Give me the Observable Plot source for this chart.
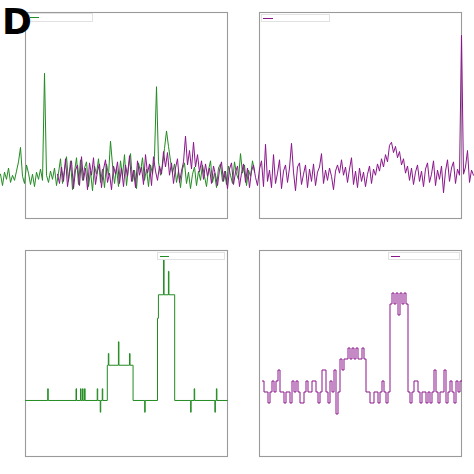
<!DOCTYPE html>
<html><head><meta charset="utf-8">
<script src="https://cdn.jsdelivr.net/npm/d3@7"></script>
<script src="https://cdn.jsdelivr.net/npm/@observablehq/plot@0.6"></script>
<style>
html,body{margin:0;padding:0;background:#fff;}
#fig{position:relative;width:474px;height:474px;overflow:hidden;background:#fff;}
.leg{position:absolute;border:1px solid #e2e2e2;background:rgba(255,255,255,0.85);box-sizing:border-box;}
.leg i{position:absolute;height:0;border-top:1.3px solid;}
#glyph{position:absolute;left:2px;top:2px;font:bold 36px "DejaVu Sans";color:#000;line-height:1.1;}
</style></head><body><div id="fig"></div>
<script>
// Top-left series (green), one sample per index
const greenTop = [0.3,-0.8,0.5,-0.2,0.9,-0.5,0.2,-0.3,0.6,1.5,2.9,0.1,-0.6,1.2,0.4,-0.7,0.3,-0.9,0.5,-0.2,
0.8,-0.3,10.1,0.2,-0.5,0.6,-0.2,0.9,-0.8,0.4,1.8,-0.6,0.7,2.0,-0.4,1.6,-1.2,0.5,1.9,-0.7,
1.7,-0.3,0.9,1.5,-0.9,0.6,-1.3,1.1,0.3,1.8,-0.5,0.8,-1.0,1.3,0.2,3.5,1.2,-0.6,0.9,-0.9,
1.6,0.1,2.2,-0.8,1.0,2.3,-0.4,0.7,-1.1,1.4,0.5,1.9,-0.3,0.8,-0.9,1.2,0.3,2.0,8.8,1.5,
0.2,1.1,2.8,4.5,3.0,1.6,0.4,1.3,-0.5,0.6,-1.0,0.8,1.4,-0.6,0.5,-1.1,0.3,1.0,-0.8,0.6,
-0.3,1.2,0.1,-0.9,0.7,1.6,-0.5,0.4,-1.0,0.9,1.3,-0.4,0.6,-0.7,1.1,0.2,-0.6,1.5,0.3,-0.2,
2.3,0.4,1.2,-0.8,0.7,0.1,1.6,0.5];
// Top-right series (purple)
const purpleTop = [0.3,-0.6,1.0,-0.4,1.8,-0.9,0.5,1.6,-1.1,0.7,1.2,-0.8,2.0,-0.3,0.9,-1.2,1.4,0.2,1.9,-0.7,
0.6,1.3,-1.0,0.8,1.7,-0.5,0.4,-1.2,1.1,0.3,1.5,-0.6,0.9,-0.9,1.2,0.1,2.1,-0.4,0.7,-1.0,
1.6,0.2,1.0,-0.7,2.2,0.4,1.3,-0.8,2.0,0.6,-0.3,1.1,0.3,2.5,1.0,2.4,0.2,1.4,-0.6,0.9,
1.8,-0.5,0.6,1.5,4.0,1.2,2.6,0.8,3.4,1.0,2.2,0.5,1.6,-0.2,1.3,0.1,0.9,-0.6,1.1,0.2,
-0.8,0.7,1.5,-0.4,0.6,-1.1,0.8,1.4,-0.7,0.5,1.1,-0.9,0.4,1.3,-0.5,0.9,-1.0,0.6,1.2,0.0,
-0.8,0.8,1.6,-0.9,3.2,-0.4,0.7,-1.0,2.2,-0.6,0.4,1.7,-1.1,0.6,1.2,-0.5,0.9,3.3,0.5,-1.3,
1.0,1.4,-0.7,0.3,1.2,-1.0,0.8,-0.4,1.3,-0.8,0.5,1.0,2.3,-0.6,0.7,-0.3,0.9,0.1,-1.2,0.6,
1.2,0.4,1.7,0.2,1.0,-0.5,0.8,1.9,-0.7,0.6,-1.0,0.9,-0.4,0.5,-0.9,0.3,1.1,-0.6,0.8,0.2,
1.3,0.6,1.8,1.0,2.2,1.5,3.1,3.4,2.4,3.0,1.9,2.5,1.2,1.8,0.4,1.1,-0.3,0.9,-0.7,0.5,
1.2,-0.4,0.6,-0.9,0.8,1.4,-0.5,0.3,1.6,-0.8,0.7,-0.2,1.1,-1.5,0.6,1.7,-0.4,0.9,1.5,-0.6,
0.8,0.2,13.8,0.3,1.0,2.6,-0.5,0.7,0.2];
// Bottom-left step events (time, level)
const greenStepT = [0,22,22.5,50,50.5,54.5,55,56.5,57,58.5,59,71,71.5,74,74.5,76,76.5,81,82,82.5,92,92.5,103,103.5,106.5,
118,118.5,130.7,131.6,136.7,137.2,141.5,142,147.7,163.5,164,167,167.5,187.5,188,189,189.5,200];
const greenStepV = [0,1,0,1,0,1,0,1,0,1,0,1,0,-1,0,1,0,3,4,3,5,3,4,3,0,
-1,0,7,9,12,9,11,9,0,-1,0,1,0,-1,0,1,0,0];
// Bottom-right quantized series, one sample per index
const purpleStep = [1,0,0,-1,0,1,0,1,2,0,0,-1,0,0,-1,1,0,1,0,-1,-1,0,1,0,0,1,1,0,-1,0,2,2,0,-1,1,0,2,-2,0,
3,2,3,3,4,3,4,3,4,3,3,4,3,
0,
0,-1,-1,0,0,-1,0,1,0,-1,0,
8,9,8,9,7,9,8,9,8,0,
-1,0,1,1,0,-1,0,0,-1,0,-1,0,2,0,-1,0,0,2,-1,0,1,0,-1,1,0,1,1];

const GREEN = "#228b22", PURPLE = "#8b148b";
const fig = document.getElementById("fig");

const rows = (xs, ys) => xs.map((x, i) => ({x, y: ys[i]}));
const idx = (ys) => ys.map((y, i) => ({x: i, y}));

function panel(box, xDomain, yDomain, marks) {
  const svg = Plot.plot({
    width: 474, height: 474,
    marginLeft: box[0], marginRight: 474 - box[1], marginTop: box[2], marginBottom: 474 - box[3],
    x: {domain: xDomain, axis: null},
    y: {domain: yDomain, axis: null},
    style: {background: "none", overflow: "visible", position: "absolute", left: "0px", top: "0px", maxWidth: "none"},
    marks: [Plot.frame({stroke: "#9a9a9a", strokeWidth: 1.1}), ...marks]
  });
  fig.appendChild(svg);
  return svg;
}

panel([25, 227, 12, 218], [12.5, 113.5], [-4, 16], [
  Plot.line(idx(greenTop), {x: "x", y: "y", stroke: GREEN, strokeWidth: 1})
]);
panel([259, 461, 12, 218], [101, 202], [-4, 16], [
  Plot.line(idx(purpleTop), {x: "x", y: "y", stroke: PURPLE, strokeWidth: 1})
]);
panel([25, 227, 250, 456], [0, 200], [-4.77, 12.77], [
  Plot.line(rows(greenStepT, greenStepV), {x: "x", y: "y", stroke: GREEN, strokeWidth: 1, curve: "step-after"})
]);
panel([259, 461, 250, 456], [-1.25, 99.75], [-5.864, 12.864], [
  Plot.line(idx(purpleStep), {x: "x", y: "y", stroke: PURPLE, strokeWidth: 1, strokeLinejoin: "miter", strokeLinecap: "butt", curve: "step-after"})
]);

function legend(l, t, w, h, color, sl, sw) {
  const d = document.createElement("div");
  d.className = "leg";
  Object.assign(d.style, {left: l + "px", top: t + "px", width: w + "px", height: h + "px"});
  const s = document.createElement("i");
  Object.assign(s.style, {left: sl + "px", top: (h / 2 - 1.5) + "px", width: sw + "px", borderColor: color});
  d.appendChild(s);
  fig.appendChild(d);
}
legend(27, 13, 66, 9, GREEN, 2, 9);
legend(261, 14, 69, 8, PURPLE, 1, 10);
legend(157, 252, 68, 8, GREEN, 2, 9);
legend(388, 252, 72, 8, PURPLE, 2, 9);

const g = document.createElement("div");
g.id = "glyph"; g.textContent = "D";
fig.appendChild(g);
</script></body></html>
